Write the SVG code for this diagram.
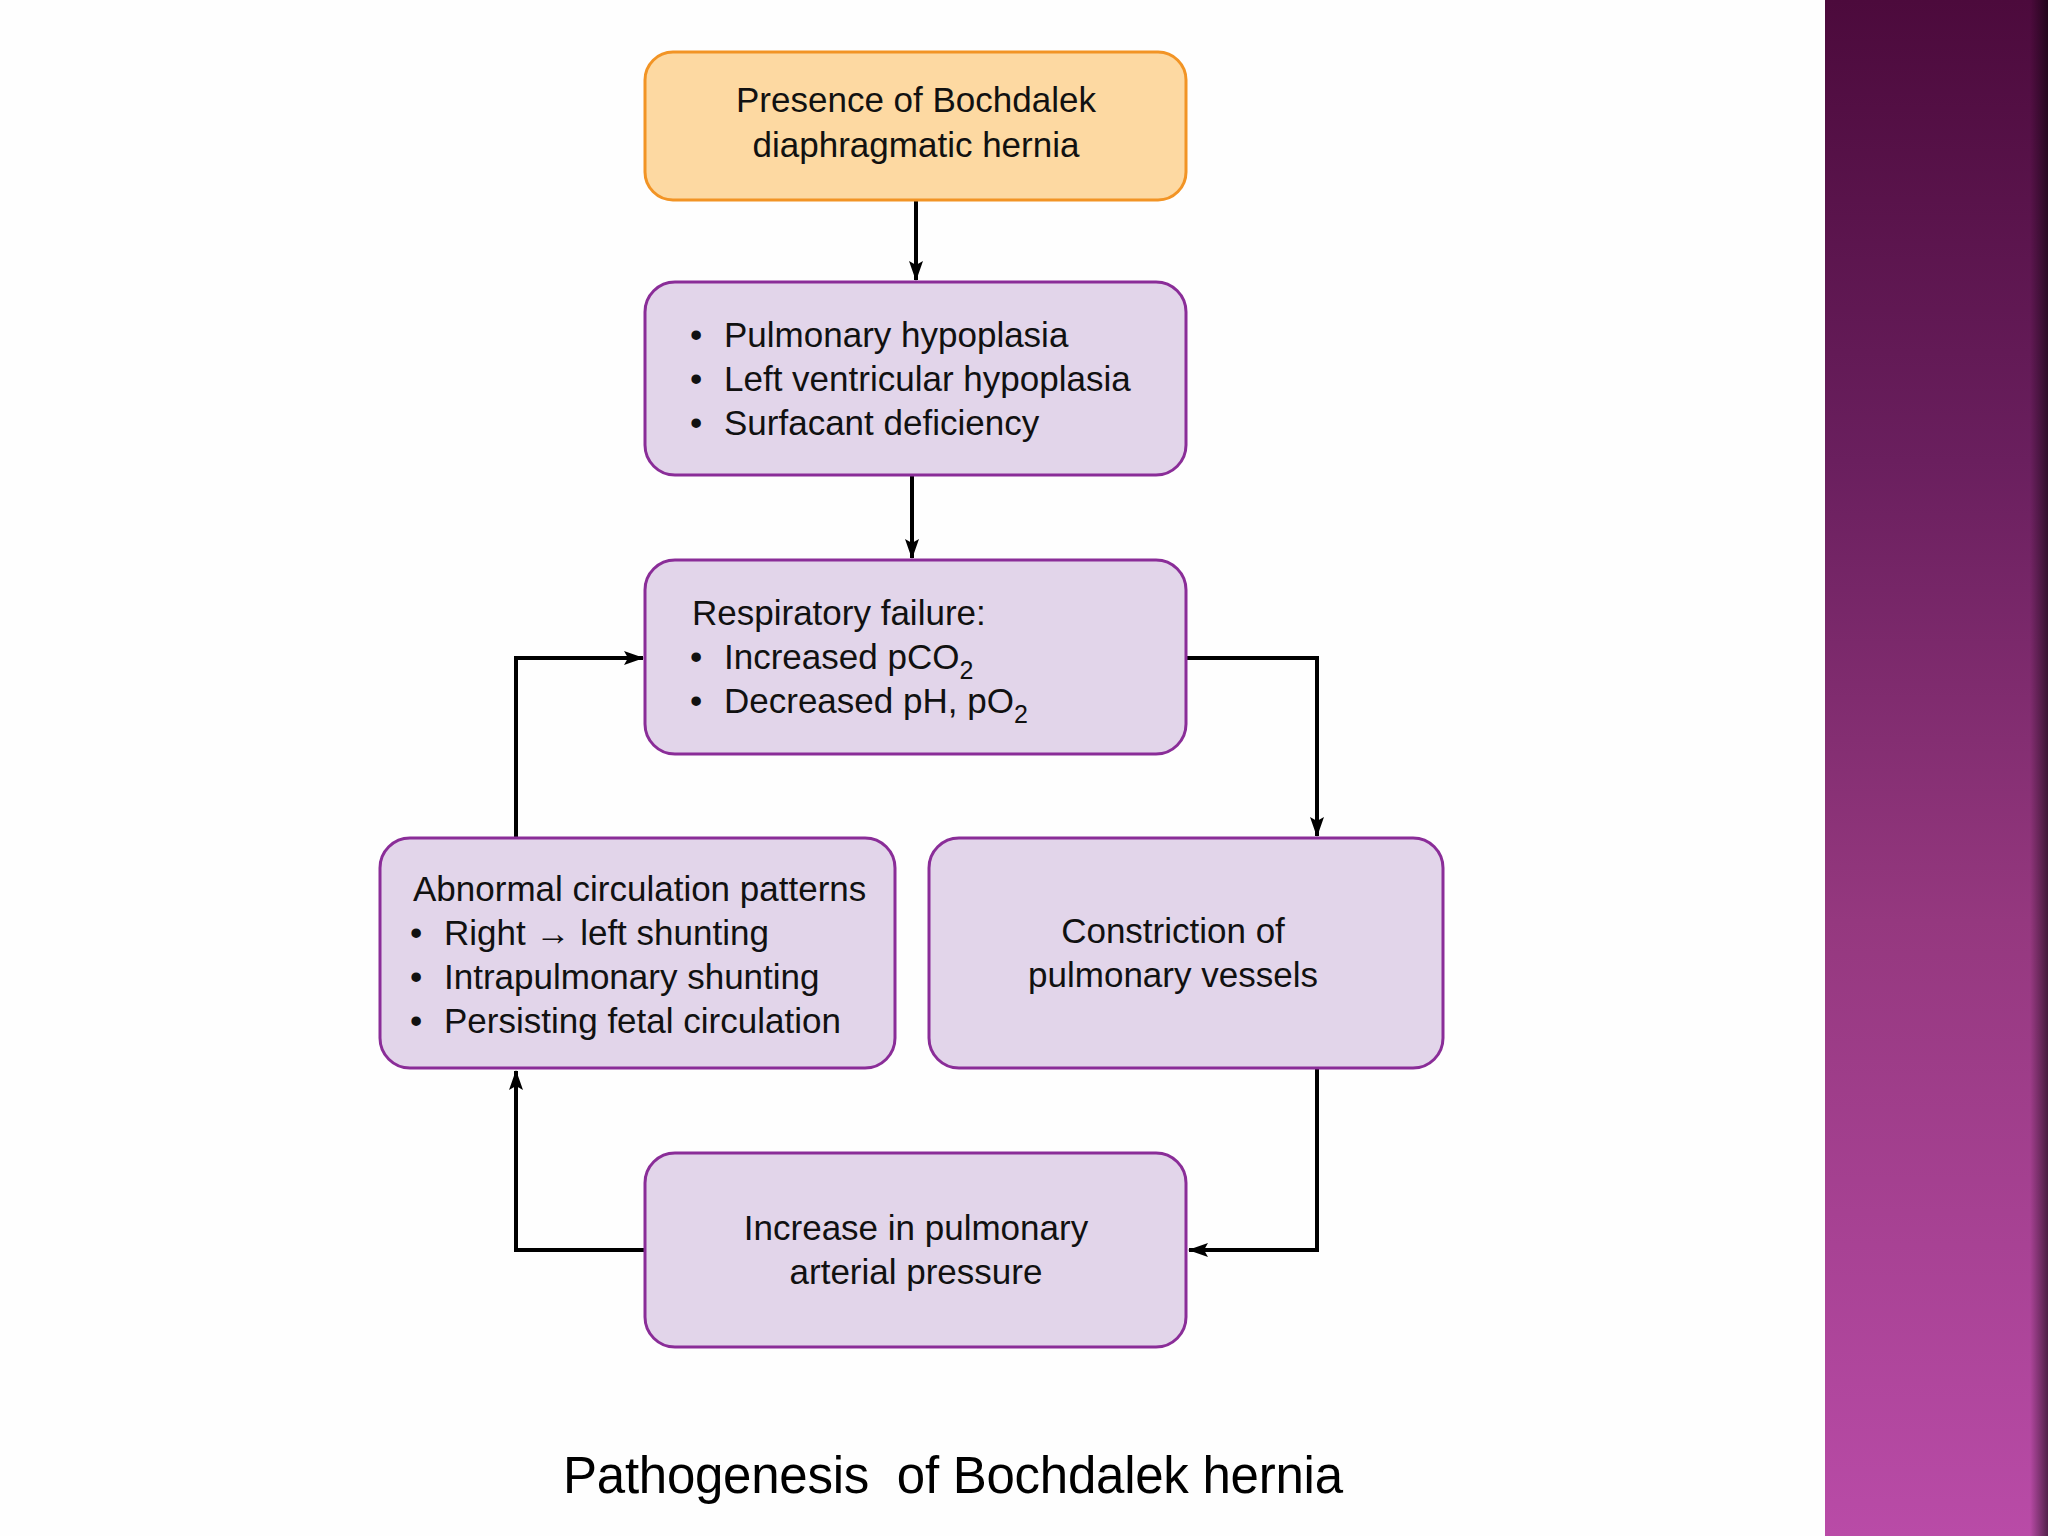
<svg xmlns="http://www.w3.org/2000/svg" width="2048" height="1536" viewBox="0 0 2048 1536">
<defs>
<linearGradient id="strip" x1="0" y1="0" x2="0" y2="1">
<stop offset="0" stop-color="#4c0a3c"/>
<stop offset="0.3" stop-color="#6a1f5e"/>
<stop offset="0.6" stop-color="#95387f"/>
<stop offset="1" stop-color="#b94ba7"/>
</linearGradient>
<linearGradient id="edge" x1="0" y1="0" x2="1" y2="0">
<stop offset="0" stop-color="#000" stop-opacity="0"/>
<stop offset="1" stop-color="#000" stop-opacity="0.55"/>
</linearGradient>
<marker id="ah" viewBox="0 0 20 16" refX="19" refY="8" markerWidth="20" markerHeight="16" markerUnits="userSpaceOnUse" orient="auto">
<path d="M0,1 L20,8 L0,15 L4,8 Z" fill="#000"/>
</marker>
</defs>
<style>
.pbox{fill:#e2d5ea;stroke:#8a2d98;stroke-width:3}
.obox{fill:#fdd9a2;stroke:#f29425;stroke-width:3}
.t{font-family:"Liberation Sans",Arial,sans-serif;font-size:35px;fill:#111}
.c{text-anchor:middle}
.conn{fill:none;stroke:#000;stroke-width:4;marker-end:url(#ah)}
.cap{font-family:"Liberation Sans",Arial,sans-serif;font-size:51px;fill:#000}
</style>
<rect x="0" y="0" width="2048" height="1536" fill="#fefefe"/>
<rect x="1825" y="0" width="223" height="1536" fill="url(#strip)"/>
<rect x="2030" y="0" width="18" height="1536" fill="url(#edge)"/>

<g id="connectors">
<path class="conn" d="M916,200 V280"/>
<path class="conn" d="M912,475 V558"/>
<path class="conn" d="M1186,658 H1317 V836"/>
<path class="conn" d="M1317,1068 V1250 H1189"/>
<path class="conn" d="M645,1250 H516 V1071"/>
<path class="conn" d="M516,838 V658 H643"/>
</g>

<g id="node-hernia">
<rect class="obox" x="645" y="52" width="541" height="148" rx="28"/>
<text class="t c" x="916" y="112">Presence of Bochdalek</text>
<text class="t c" x="916" y="157">diaphragmatic hernia</text>
</g>

<g id="node-hypoplasia">
<rect class="pbox" x="645" y="282" width="541" height="193" rx="30"/>
<text class="t" x="690" y="347">•</text><text class="t" x="724" y="347">Pulmonary hypoplasia</text>
<text class="t" x="690" y="391">•</text><text class="t" x="724" y="391">Left ventricular hypoplasia</text>
<text class="t" x="690" y="435">•</text><text class="t" x="724" y="435">Surfacant deficiency</text>
</g>

<g id="node-respiratory">
<rect class="pbox" x="645" y="560" width="541" height="194" rx="30"/>
<text class="t" x="692" y="625">Respiratory failure:</text>
<text class="t" x="690" y="669">•</text><text class="t" x="724" y="669">Increased pCO<tspan font-size="25" dy="10">2</tspan></text>
<text class="t" x="690" y="713">•</text><text class="t" x="724" y="713">Decreased pH, pO<tspan font-size="25" dy="10">2</tspan></text>
</g>

<g id="node-abnormal">
<rect class="pbox" x="380" y="838" width="515" height="230" rx="30"/>
<text class="t" x="413" y="901">Abnormal circulation patterns</text>
<text class="t" x="410" y="945">•</text><text class="t" x="444" y="945">Right → left shunting</text>
<text class="t" x="410" y="989">•</text><text class="t" x="444" y="989">Intrapulmonary shunting</text>
<text class="t" x="410" y="1033">•</text><text class="t" x="444" y="1033">Persisting fetal circulation</text>
</g>

<g id="node-constriction">
<rect class="pbox" x="929" y="838" width="514" height="230" rx="30"/>
<text class="t c" x="1173" y="943">Constriction of</text>
<text class="t c" x="1173" y="987">pulmonary vessels</text>
</g>

<g id="node-pressure">
<rect class="pbox" x="645" y="1153" width="541" height="194" rx="30"/>
<text class="t c" x="916" y="1240">Increase in pulmonary</text>
<text class="t c" x="916" y="1284">arterial pressure</text>
</g>

<text class="cap" x="563" y="1493" xml:space="preserve" textLength="780">Pathogenesis  of Bochdalek hernia</text>
</svg>
